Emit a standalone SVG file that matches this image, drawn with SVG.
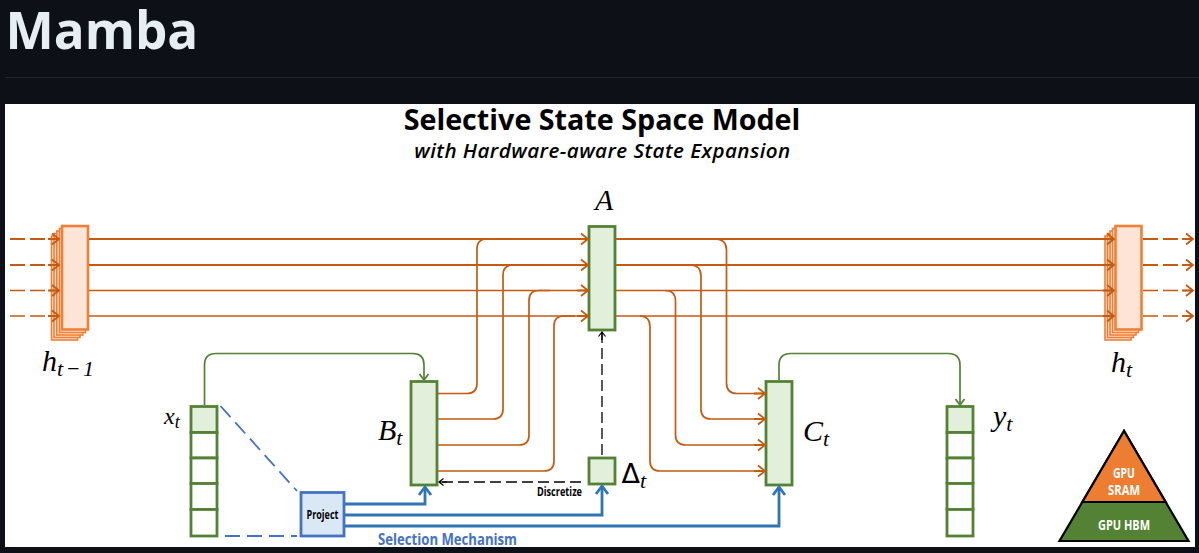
<svg xmlns="http://www.w3.org/2000/svg" width="1199" height="553" viewBox="0 0 1199 553">
<style>
.ui{font-family:"Open Sans","Noto Sans","Liberation Sans",sans-serif}
.m{font-family:"Liberation Serif","DejaVu Serif",serif;font-style:italic;fill:#000;font-size:30px}
.s{font-size:22px}
.o{fill:none;stroke:#c55a11;stroke-width:1.7}
.ot{fill:none;stroke:#c55a11;stroke-width:2.1}
.g{fill:none;stroke:#548235;stroke-width:1.7}
.b{fill:none;stroke:#2e75b6;stroke-width:2.8}
.bd{fill:none;stroke:#4472c4;stroke-width:1.8;stroke-dasharray:15 7}
.k{fill:none;stroke:#000;stroke-width:1.3;stroke-dasharray:11 5}
.cell{fill:#fff;stroke:#548235;stroke-width:2.8}
.on{fill:#e2efda;stroke:#548235;stroke-width:2.8}
.st{fill:#fce4d6;stroke:#f08035;stroke-width:1.6}
.stm{fill:#fde4d6;stroke:#f08035;stroke-width:2.6}
</style>
<defs>
<marker id="ao" markerUnits="userSpaceOnUse" markerWidth="14" markerHeight="14" refX="11" refY="7" orient="auto"><path d="M4 1.500L11 7L4 12.500M0 7H11" fill="none" stroke="#c55a11" stroke-width="1.800"/></marker>
<marker id="ag" markerUnits="userSpaceOnUse" markerWidth="14" markerHeight="14" refX="11" refY="7" orient="auto"><path d="M5 2.500L11 7L5 11.500" fill="none" stroke="#548235" stroke-width="1.800"/></marker>
<marker id="ab" markerUnits="userSpaceOnUse" markerWidth="16" markerHeight="16" refX="13" refY="8" orient="auto"><path d="M5 2L13 8L5 14" fill="none" stroke="#2e75b6" stroke-width="2.800"/></marker>
<marker id="ak" markerUnits="userSpaceOnUse" markerWidth="10" markerHeight="10" refX="8" refY="5" orient="auto"><path d="M3.500 1.500L8 5L3.500 8.500M0 5H8" fill="none" stroke="#000" stroke-width="1.200"/></marker>
</defs>
<rect width="1199" height="553" fill="#0d1117"/>
<text class="ui" x="5.500" y="49" font-size="51.200" font-weight="700" fill="#e6edf3">Mamba</text>
<rect x="5" y="77" width="1194" height="1" fill="#21262d"/>
<rect x="5" y="104" width="1190" height="443" fill="#fff"/>
<text class="ui" x="602" y="130" font-size="28.700" font-weight="700" text-anchor="middle" fill="#000">Selective State Space Model</text>
<text class="ui" x="602.500" y="158" font-size="20.600" font-weight="600" font-style="italic" text-anchor="middle" fill="#000" letter-spacing=".45">with Hardware-aware State Expansion</text>

<g id="h-prev">
<rect class="st" x="51.500" y="236" width="26" height="104"/>
<rect class="st" x="54" y="233.500" width="26" height="104"/>
<rect class="st" x="56.800" y="231" width="26" height="104"/>
<rect class="st" x="59.500" y="228.500" width="26" height="104"/>
<rect class="stm" x="62" y="226" width="26" height="103.500"/>
<text class="m" x="42" y="371">h<tspan class="s" dy="5" letter-spacing="2.500">t−1</tspan></text>
</g>
<g id="h-next">
<rect class="st" x="1105" y="236" width="26" height="104"/>
<rect class="st" x="1107.500" y="233.500" width="26" height="104"/>
<rect class="st" x="1110" y="231" width="26" height="104"/>
<rect class="st" x="1112.500" y="228.500" width="26" height="104"/>
<rect class="stm" x="1115.500" y="226" width="26" height="103.500"/>
<text class="m" x="1111" y="372">h<tspan class="s" dy="5">t</tspan></text>
</g>
<g id="A">
<rect class="on" x="589" y="226.500" width="26" height="103.500"/>
<text class="m" x="595" y="210">A</text>
</g>
<g id="B">
<rect class="on" x="411" y="381.500" width="26" height="103.500"/>
<text class="m" x="378" y="440">B<tspan class="s" dy="5">t</tspan></text>
</g>
<g id="C">
<rect class="on" x="766" y="381.500" width="26" height="103.500"/>
<text class="m" x="803" y="441">C<tspan class="s" dy="5">t</tspan></text>
</g>
<g id="delta">
<rect class="on" x="589" y="458" width="26" height="26"/>
<text class="m" x="621.500" y="483" style="font-style:normal;font-family:'DejaVu Sans',sans-serif;font-size:27px">Δ<tspan class="s" dy="5" style="font-style:italic;font-family:'Liberation Serif',serif">t</tspan></text>
</g>
<g id="x">
<rect class="on" x="191" y="406.500" width="26" height="26"/>
<rect class="cell" x="191" y="432.500" width="26" height="25.500"/>
<rect class="cell" x="191" y="458" width="26" height="25.500"/>
<rect class="cell" x="191" y="483.500" width="26" height="26"/>
<rect class="cell" x="191" y="509.500" width="26" height="26.500"/>
<text class="m" x="164" y="424" style="font-size:24px">x<tspan dy="4" style="font-size:18px">t</tspan></text>
</g>
<g id="y">
<rect class="on" x="947" y="406.500" width="26" height="26"/>
<rect class="cell" x="947" y="432.500" width="26" height="25.500"/>
<rect class="cell" x="947" y="458" width="26" height="25.500"/>
<rect class="cell" x="947" y="483.500" width="26" height="26"/>
<rect class="cell" x="947" y="509.500" width="26" height="26.500"/>
<text class="m" x="993" y="426">y<tspan class="s" dy="5">t</tspan></text>
</g>
<g id="project">
<rect x="301" y="492.500" width="43" height="43.500" fill="#dae8f6" stroke="#4472c4" stroke-width="2.800"/>
<text class="ui" x="322.500" y="518.500" font-size="13" font-weight="700" text-anchor="middle" fill="#000" textLength="32" lengthAdjust="spacingAndGlyphs">Project</text>
</g>
<g id="memory">
<path d="M1124 431L1059.500 541H1188.500Z" fill="#548235" stroke="#000" stroke-width="2.200"/>
<path d="M1124 431L1082.400 502H1165.600Z" fill="#ed7d31" stroke="#000" stroke-width="2.200"/>
<text class="ui" x="1124" y="478" font-size="13.500" font-weight="700" text-anchor="middle" fill="#fff" textLength="22" lengthAdjust="spacingAndGlyphs">GPU</text>
<text class="ui" x="1124" y="495" font-size="13.500" font-weight="700" text-anchor="middle" fill="#fff" textLength="32" lengthAdjust="spacingAndGlyphs">SRAM</text>
<text class="ui" x="1124" y="530" font-size="14" font-weight="700" text-anchor="middle" fill="#fff" textLength="52" lengthAdjust="spacingAndGlyphs">GPU HBM</text>
</g>

<g id="connectors">
<path class="ot" d="M10 239H59" stroke-dasharray="15 5" marker-end="url(#ao)"/>
<path class="ot" d="M10 265H59" stroke-dasharray="15 5" marker-end="url(#ao)"/>
<path class="o" d="M10 290.500H59" stroke-dasharray="15 5" marker-end="url(#ao)"/>
<path class="o" d="M10 316H59" stroke-dasharray="15 5" marker-end="url(#ao)"/>
<path class="ot" d="M89 239H588" marker-end="url(#ao)"/>
<path class="ot" d="M89 265H588" marker-end="url(#ao)"/>
<path class="o" d="M89 290.500H588" marker-end="url(#ao)"/>
<path class="o" d="M89 316H588" marker-end="url(#ao)"/>
<path class="ot" d="M616 239H1114" marker-end="url(#ao)"/>
<path class="ot" d="M616 265H1114" marker-end="url(#ao)"/>
<path class="o" d="M616 290.500H1114" marker-end="url(#ao)"/>
<path class="o" d="M616 316H1114" marker-end="url(#ao)"/>
<path class="ot" d="M1143 239H1193" stroke-dasharray="15 5" marker-end="url(#ao)"/>
<path class="ot" d="M1143 265H1193" stroke-dasharray="15 5" marker-end="url(#ao)"/>
<path class="o" d="M1143 290.500H1193" stroke-dasharray="15 5" marker-end="url(#ao)"/>
<path class="o" d="M1143 316H1193" stroke-dasharray="15 5" marker-end="url(#ao)"/>
<path class="o" d="M438 393.500H467Q477 393.500 477 383V249Q477 239 487 239H500"/>
<path class="o" d="M438 419H493Q503 419 503 409V275Q503 265 513 265H525"/>
<path class="o" d="M438 445H519Q529 445 529 435V300.500Q529 290.500 539 290.500H550"/>
<path class="o" d="M438 471H544Q554 471 554 461V326Q554 316 564 316H575"/>
<path class="o" d="M715 239Q726.500 239 726.500 250V383Q726.500 393.500 737 393.500H765" marker-end="url(#ao)"/>
<path class="o" d="M690 265Q701 265 701 276V409Q701 419 711 419H765" marker-end="url(#ao)"/>
<path class="o" d="M665 290.500Q675.500 290.500 675.500 301V435Q675.500 445 686 445H765" marker-end="url(#ao)"/>
<path class="o" d="M640 316Q650 316 650 327V461Q650 471 660 471H765" marker-end="url(#ao)"/>
<path class="g" d="M204.500 405V365Q204.500 353.500 216 353.500H413Q424 353.500 424 365V380" marker-end="url(#ag)"/>
<path class="g" d="M779 380V365Q779 353.500 791 353.500H948Q960 353.500 960 365V405" marker-end="url(#ag)"/>
<path class="b" d="M345 504H425V487" stroke-width="3" marker-end="url(#ab)"/>
<path class="b" d="M345 515H602V486" marker-end="url(#ab)"/>
<path class="b" d="M345 526H779V487" marker-end="url(#ab)"/>
<path class="bd" d="M220.500 406L297 491"/>
<path class="bd" d="M225 536H297"/>
<path class="k" d="M602 455V332" marker-end="url(#ak)"/>
<path class="k" d="M581 482H439" marker-end="url(#ak)"/>
<text class="ui" x="537" y="496" font-size="12" font-weight="700" fill="#000" textLength="45" lengthAdjust="spacingAndGlyphs">Discretize</text>
<text class="ui" x="378" y="544.500" font-size="16.500" font-weight="700" fill="#4472c4" textLength="139" lengthAdjust="spacingAndGlyphs">Selection Mechanism</text>
</g>
</svg>
